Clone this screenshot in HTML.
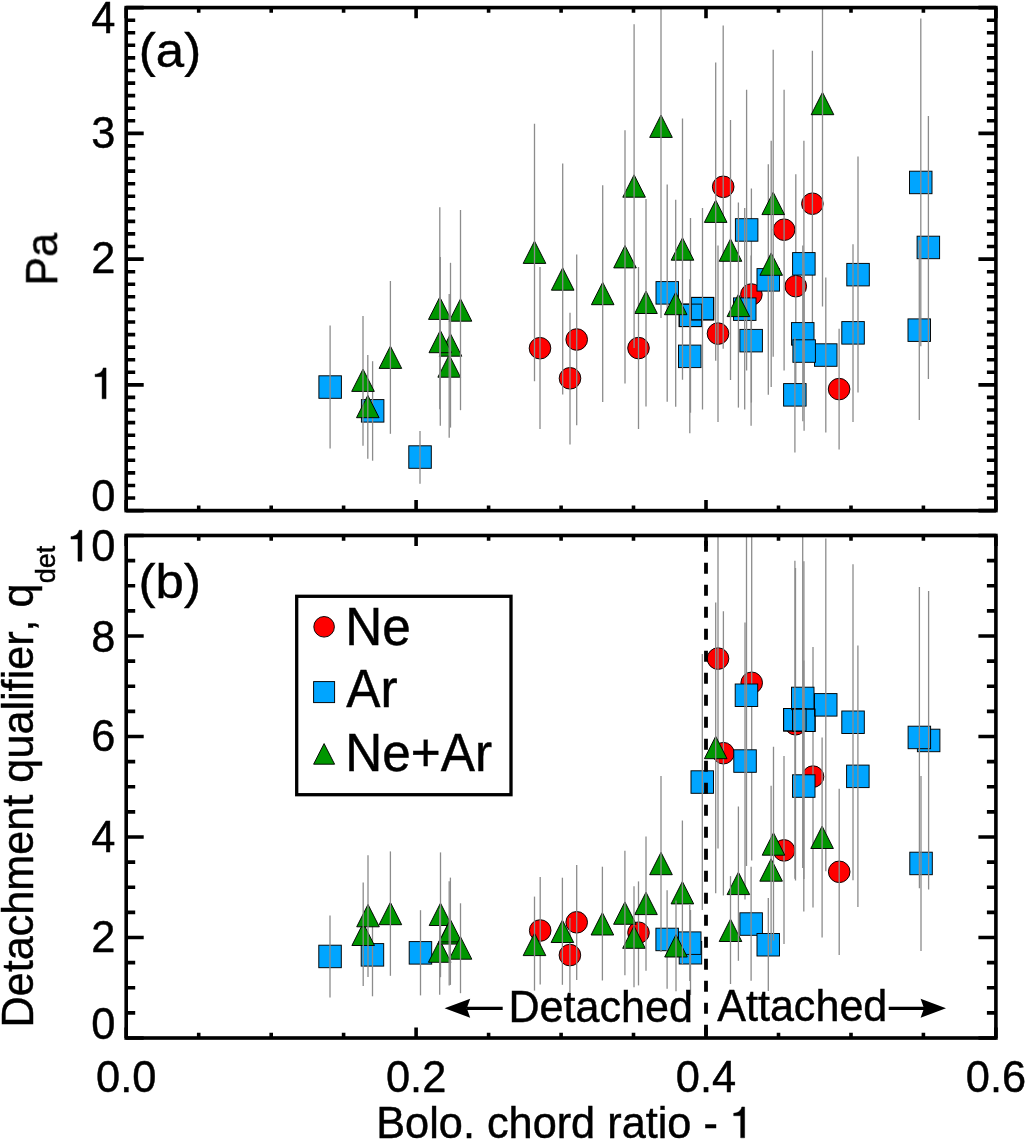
<!DOCTYPE html>
<html><head><meta charset="utf-8"><style>
html,body{margin:0;padding:0;background:#fff;overflow:hidden;}
svg{display:block;font-family:"Liberation Sans",sans-serif;font-variant-ligatures:none;font-feature-settings:"liga" 0,"clig" 0;font-kerning:none;}
</style></head><body>
<svg width="1025" height="1140" viewBox="0 0 1025 1140">
<rect width="1025" height="1140" fill="#fff"/>
<defs>
<clipPath id="ca"><rect x="126.2" y="7.6" width="869.6999999999999" height="503.0"/></clipPath>
<clipPath id="cb"><rect x="126.2" y="535.5" width="869.6999999999999" height="502.5"/></clipPath>
</defs>
<g clip-path="url(#ca)"><circle cx="540.0" cy="348.2" r="10.8" fill="#ff0000" stroke="#000" stroke-width="0.95"/>
<circle cx="570.0" cy="378.3" r="10.8" fill="#ff0000" stroke="#000" stroke-width="0.95"/>
<circle cx="576.7" cy="339.5" r="10.8" fill="#ff0000" stroke="#000" stroke-width="0.95"/>
<circle cx="638.5" cy="348.1" r="10.8" fill="#ff0000" stroke="#000" stroke-width="0.95"/>
<circle cx="723.2" cy="186.8" r="10.8" fill="#ff0000" stroke="#000" stroke-width="0.95"/>
<circle cx="751.4" cy="294.5" r="10.8" fill="#ff0000" stroke="#000" stroke-width="0.95"/>
<circle cx="718.0" cy="333.6" r="10.8" fill="#ff0000" stroke="#000" stroke-width="0.95"/>
<circle cx="784.1" cy="229.7" r="10.8" fill="#ff0000" stroke="#000" stroke-width="0.95"/>
<circle cx="812.4" cy="203.7" r="10.8" fill="#ff0000" stroke="#000" stroke-width="0.95"/>
<circle cx="795.8" cy="286.2" r="10.8" fill="#ff0000" stroke="#000" stroke-width="0.95"/>
<circle cx="839.1" cy="389.1" r="10.8" fill="#ff0000" stroke="#000" stroke-width="0.95"/>
<g stroke="#8c8c8c" stroke-width="1.3">
<line x1="540.0" y1="267.0" x2="540.0" y2="429.0"/>
<line x1="570.0" y1="312.8" x2="570.0" y2="444.6"/>
<line x1="576.7" y1="254.4" x2="576.7" y2="425.2"/>
<line x1="638.5" y1="267.0" x2="638.5" y2="429.0"/>
<line x1="723.2" y1="25.4" x2="723.2" y2="348.7"/>
<line x1="751.4" y1="188.6" x2="751.4" y2="402.6"/>
<line x1="718.0" y1="245.4" x2="718.0" y2="422.0"/>
<line x1="784.1" y1="89.8" x2="784.1" y2="370.4"/>
<line x1="812.4" y1="50.7" x2="812.4" y2="356.5"/>
<line x1="795.8" y1="174.2" x2="795.8" y2="398.0"/>
<line x1="839.1" y1="328.8" x2="839.1" y2="449.5"/>
</g>
<rect x="318.9" y="375.8" width="22.5" height="22.5" fill="#00a5ff" stroke="#000" stroke-width="0.95"/>
<rect x="361.4" y="399.6" width="22.5" height="22.5" fill="#00a5ff" stroke="#000" stroke-width="0.95"/>
<rect x="408.8" y="445.8" width="22.5" height="22.5" fill="#00a5ff" stroke="#000" stroke-width="0.95"/>
<rect x="656.0" y="281.6" width="22.5" height="22.5" fill="#00a5ff" stroke="#000" stroke-width="0.95"/>
<rect x="678.5" y="345.1" width="22.5" height="22.5" fill="#00a5ff" stroke="#000" stroke-width="0.95"/>
<rect x="679.2" y="304.1" width="22.5" height="22.5" fill="#00a5ff" stroke="#000" stroke-width="0.95"/>
<rect x="691.2" y="297.4" width="22.5" height="22.5" fill="#00a5ff" stroke="#000" stroke-width="0.95"/>
<rect x="735.4" y="218.7" width="22.5" height="22.5" fill="#00a5ff" stroke="#000" stroke-width="0.95"/>
<rect x="733.5" y="297.9" width="22.5" height="22.5" fill="#00a5ff" stroke="#000" stroke-width="0.95"/>
<rect x="739.9" y="329.4" width="22.5" height="22.5" fill="#00a5ff" stroke="#000" stroke-width="0.95"/>
<rect x="757.0" y="268.6" width="22.5" height="22.5" fill="#00a5ff" stroke="#000" stroke-width="0.95"/>
<rect x="792.6" y="252.6" width="22.5" height="22.5" fill="#00a5ff" stroke="#000" stroke-width="0.95"/>
<rect x="791.5" y="322.6" width="22.5" height="22.5" fill="#00a5ff" stroke="#000" stroke-width="0.95"/>
<rect x="814.5" y="343.8" width="22.5" height="22.5" fill="#00a5ff" stroke="#000" stroke-width="0.95"/>
<rect x="792.9" y="339.8" width="22.5" height="22.5" fill="#00a5ff" stroke="#000" stroke-width="0.95"/>
<rect x="783.6" y="383.6" width="22.5" height="22.5" fill="#00a5ff" stroke="#000" stroke-width="0.95"/>
<rect x="846.8" y="263.4" width="22.5" height="22.5" fill="#00a5ff" stroke="#000" stroke-width="0.95"/>
<rect x="841.8" y="321.6" width="22.5" height="22.5" fill="#00a5ff" stroke="#000" stroke-width="0.95"/>
<rect x="909.5" y="171.2" width="22.5" height="22.5" fill="#00a5ff" stroke="#000" stroke-width="0.95"/>
<rect x="917.1" y="236.2" width="22.5" height="22.5" fill="#00a5ff" stroke="#000" stroke-width="0.95"/>
<rect x="908.0" y="318.9" width="22.5" height="22.5" fill="#00a5ff" stroke="#000" stroke-width="0.95"/>
<rect x="679.2" y="304.1" width="22.5" height="22.5" fill="none" stroke="#000" stroke-width="0.95"/>
<rect x="691.2" y="297.4" width="22.5" height="22.5" fill="none" stroke="#000" stroke-width="0.95"/>
<g stroke="#8c8c8c" stroke-width="1.3">
<line x1="330.1" y1="325.4" x2="330.1" y2="448.6"/>
<line x1="372.6" y1="361.2" x2="372.6" y2="460.7"/>
<line x1="420.0" y1="431.0" x2="420.0" y2="483.8"/>
<line x1="667.2" y1="184.6" x2="667.2" y2="401.7"/>
<line x1="689.8" y1="279.3" x2="689.8" y2="433.3"/>
<line x1="690.5" y1="218.0" x2="690.5" y2="412.7"/>
<line x1="702.5" y1="208.0" x2="702.5" y2="409.5"/>
<line x1="746.6" y1="89.8" x2="746.6" y2="370.4"/>
<line x1="744.7" y1="208.0" x2="744.7" y2="409.6"/>
<line x1="751.1" y1="255.5" x2="751.1" y2="425.7"/>
<line x1="768.3" y1="164.3" x2="768.3" y2="394.7"/>
<line x1="803.9" y1="140.7" x2="803.9" y2="387.0"/>
<line x1="802.8" y1="245.6" x2="802.8" y2="421.2"/>
<line x1="825.8" y1="277.6" x2="825.8" y2="432.5"/>
<line x1="804.1" y1="270.8" x2="804.1" y2="430.7"/>
<line x1="794.9" y1="337.5" x2="794.9" y2="452.6"/>
<line x1="858.0" y1="156.4" x2="858.0" y2="392.4"/>
<line x1="853.0" y1="244.3" x2="853.0" y2="421.9"/>
<line x1="920.8" y1="18.4" x2="920.8" y2="346.2"/>
<line x1="928.4" y1="115.9" x2="928.4" y2="378.9"/>
<line x1="919.3" y1="240.3" x2="919.3" y2="420.1"/>
</g>
<path d="M363.0 369.1L374.3 391.4L351.7 391.4Z" fill="#009600" stroke="#000" stroke-width="0.95" stroke-linejoin="miter"/>
<path d="M367.8 395.3L379.1 417.7L356.5 417.7Z" fill="#009600" stroke="#000" stroke-width="0.95" stroke-linejoin="miter"/>
<path d="M390.4 346.1L401.7 368.4L379.1 368.4Z" fill="#009600" stroke="#000" stroke-width="0.95" stroke-linejoin="miter"/>
<path d="M460.5 298.8L471.8 321.2L449.2 321.2Z" fill="#009600" stroke="#000" stroke-width="0.95" stroke-linejoin="miter"/>
<path d="M449.2 354.8L460.5 377.2L437.9 377.2Z" fill="#009600" stroke="#000" stroke-width="0.95" stroke-linejoin="miter"/>
<path d="M450.5 333.8L461.8 356.2L439.2 356.2Z" fill="#009600" stroke="#000" stroke-width="0.95" stroke-linejoin="miter"/>
<path d="M439.8 297.1L451.1 319.4L428.5 319.4Z" fill="#009600" stroke="#000" stroke-width="0.95" stroke-linejoin="miter"/>
<path d="M440.3 330.3L451.6 352.7L429.0 352.7Z" fill="#009600" stroke="#000" stroke-width="0.95" stroke-linejoin="miter"/>
<path d="M534.5 241.1L545.8 263.4L523.2 263.4Z" fill="#009600" stroke="#000" stroke-width="0.95" stroke-linejoin="miter"/>
<path d="M562.7 267.8L574.0 290.2L551.4 290.2Z" fill="#009600" stroke="#000" stroke-width="0.95" stroke-linejoin="miter"/>
<path d="M602.7 282.3L614.0 304.7L591.4 304.7Z" fill="#009600" stroke="#000" stroke-width="0.95" stroke-linejoin="miter"/>
<path d="M625.0 245.5L636.3 267.9L613.7 267.9Z" fill="#009600" stroke="#000" stroke-width="0.95" stroke-linejoin="miter"/>
<path d="M634.1 174.8L645.4 197.2L622.8 197.2Z" fill="#009600" stroke="#000" stroke-width="0.95" stroke-linejoin="miter"/>
<path d="M646.0 291.1L657.3 313.5L634.7 313.5Z" fill="#009600" stroke="#000" stroke-width="0.95" stroke-linejoin="miter"/>
<path d="M661.0 115.0L672.3 137.4L649.7 137.4Z" fill="#009600" stroke="#000" stroke-width="0.95" stroke-linejoin="miter"/>
<path d="M675.7 292.3L687.0 314.7L664.4 314.7Z" fill="#009600" stroke="#000" stroke-width="0.95" stroke-linejoin="miter"/>
<path d="M682.5 237.8L693.8 260.2L671.2 260.2Z" fill="#009600" stroke="#000" stroke-width="0.95" stroke-linejoin="miter"/>
<path d="M715.7 200.1L727.0 222.4L704.4 222.4Z" fill="#009600" stroke="#000" stroke-width="0.95" stroke-linejoin="miter"/>
<path d="M730.5 238.9L741.8 261.3L719.2 261.3Z" fill="#009600" stroke="#000" stroke-width="0.95" stroke-linejoin="miter"/>
<path d="M738.4 294.2L749.7 316.6L727.1 316.6Z" fill="#009600" stroke="#000" stroke-width="0.95" stroke-linejoin="miter"/>
<path d="M773.2 192.2L784.5 214.6L761.9 214.6Z" fill="#009600" stroke="#000" stroke-width="0.95" stroke-linejoin="miter"/>
<path d="M771.2 252.9L782.5 275.3L759.9 275.3Z" fill="#009600" stroke="#000" stroke-width="0.95" stroke-linejoin="miter"/>
<path d="M822.5 92.3L833.8 114.7L811.2 114.7Z" fill="#009600" stroke="#000" stroke-width="0.95" stroke-linejoin="miter"/>
<g stroke="#8c8c8c" stroke-width="1.3">
<line x1="363.0" y1="316.0" x2="363.0" y2="445.7"/>
<line x1="367.8" y1="355.0" x2="367.8" y2="458.7"/>
<line x1="390.4" y1="281.0" x2="390.4" y2="433.8"/>
<line x1="460.5" y1="210.0" x2="460.5" y2="410.2"/>
<line x1="449.2" y1="294.0" x2="449.2" y2="437.8"/>
<line x1="450.5" y1="262.8" x2="450.5" y2="427.6"/>
<line x1="439.8" y1="207.2" x2="439.8" y2="409.2"/>
<line x1="440.3" y1="257.0" x2="440.3" y2="425.8"/>
<line x1="534.5" y1="123.7" x2="534.5" y2="381.2"/>
<line x1="562.7" y1="163.5" x2="562.7" y2="394.5"/>
<line x1="602.7" y1="185.2" x2="602.7" y2="402.0"/>
<line x1="625.0" y1="130.2" x2="625.0" y2="383.6"/>
<line x1="634.1" y1="24.2" x2="634.1" y2="348.0"/>
<line x1="646.0" y1="199.0" x2="646.0" y2="406.6"/>
<line x1="661.0" y1="7.6" x2="661.0" y2="318.0"/>
<line x1="675.7" y1="199.7" x2="675.7" y2="406.7"/>
<line x1="682.5" y1="118.5" x2="682.5" y2="379.7"/>
<line x1="715.7" y1="62.4" x2="715.7" y2="360.8"/>
<line x1="730.5" y1="120.1" x2="730.5" y2="380.0"/>
<line x1="738.4" y1="202.4" x2="738.4" y2="407.6"/>
<line x1="773.2" y1="49.8" x2="773.2" y2="356.8"/>
<line x1="771.2" y1="140.7" x2="771.2" y2="387.1"/>
<line x1="822.5" y1="7.6" x2="822.5" y2="306.5"/>
</g></g>
<g clip-path="url(#cb)"><circle cx="540.2" cy="930.5" r="10.8" fill="#ff0000" stroke="#000" stroke-width="0.95"/>
<circle cx="569.9" cy="955.1" r="10.8" fill="#ff0000" stroke="#000" stroke-width="0.95"/>
<circle cx="576.7" cy="922.3" r="10.8" fill="#ff0000" stroke="#000" stroke-width="0.95"/>
<circle cx="638.5" cy="932.7" r="10.8" fill="#ff0000" stroke="#000" stroke-width="0.95"/>
<circle cx="718.0" cy="658.6" r="10.8" fill="#ff0000" stroke="#000" stroke-width="0.95"/>
<circle cx="723.4" cy="753.2" r="10.8" fill="#ff0000" stroke="#000" stroke-width="0.95"/>
<circle cx="751.7" cy="682.8" r="10.8" fill="#ff0000" stroke="#000" stroke-width="0.95"/>
<circle cx="784.0" cy="850.4" r="10.8" fill="#ff0000" stroke="#000" stroke-width="0.95"/>
<circle cx="795.5" cy="724.3" r="10.8" fill="#ff0000" stroke="#000" stroke-width="0.95"/>
<circle cx="813.0" cy="776.6" r="10.8" fill="#ff0000" stroke="#000" stroke-width="0.95"/>
<circle cx="839.2" cy="871.8" r="10.8" fill="#ff0000" stroke="#000" stroke-width="0.95"/>
<g stroke="#8c8c8c" stroke-width="1.3">
<line x1="540.2" y1="877.1" x2="540.2" y2="984.4"/>
<line x1="569.9" y1="918.0" x2="569.9" y2="992.2"/>
<line x1="576.7" y1="865.0" x2="576.7" y2="980.1"/>
<line x1="638.5" y1="881.4" x2="638.5" y2="985.4"/>
<line x1="718.0" y1="535.5" x2="718.0" y2="848.6"/>
<line x1="723.4" y1="611.2" x2="723.4" y2="895.5"/>
<line x1="751.7" y1="535.5" x2="751.7" y2="860.5"/>
<line x1="784.0" y1="756.0" x2="784.0" y2="944.0"/>
<line x1="795.5" y1="568.0" x2="795.5" y2="880.6"/>
<line x1="813.0" y1="647.0" x2="813.0" y2="907.6"/>
<line x1="839.2" y1="788.8" x2="839.2" y2="955.0"/>
</g>
<rect x="318.8" y="945.2" width="22.5" height="22.5" fill="#00a5ff" stroke="#000" stroke-width="0.95"/>
<rect x="361.2" y="943.6" width="22.5" height="22.5" fill="#00a5ff" stroke="#000" stroke-width="0.95"/>
<rect x="409.2" y="941.6" width="22.5" height="22.5" fill="#00a5ff" stroke="#000" stroke-width="0.95"/>
<rect x="655.9" y="928.2" width="22.5" height="22.5" fill="#00a5ff" stroke="#000" stroke-width="0.95"/>
<rect x="679.2" y="941.5" width="22.5" height="22.5" fill="#00a5ff" stroke="#000" stroke-width="0.95"/>
<rect x="678.5" y="931.9" width="22.5" height="22.5" fill="#00a5ff" stroke="#000" stroke-width="0.95"/>
<rect x="691.0" y="770.8" width="22.5" height="22.5" fill="#00a5ff" stroke="#000" stroke-width="0.95"/>
<rect x="733.8" y="749.8" width="22.5" height="22.5" fill="#00a5ff" stroke="#000" stroke-width="0.95"/>
<rect x="735.2" y="684.0" width="22.5" height="22.5" fill="#00a5ff" stroke="#000" stroke-width="0.95"/>
<rect x="739.9" y="912.8" width="22.5" height="22.5" fill="#00a5ff" stroke="#000" stroke-width="0.95"/>
<rect x="757.0" y="933.5" width="22.5" height="22.5" fill="#00a5ff" stroke="#000" stroke-width="0.95"/>
<rect x="783.6" y="708.5" width="22.5" height="22.5" fill="#00a5ff" stroke="#000" stroke-width="0.95"/>
<rect x="791.5" y="687.2" width="22.5" height="22.5" fill="#00a5ff" stroke="#000" stroke-width="0.95"/>
<rect x="792.6" y="709.0" width="22.5" height="22.5" fill="#00a5ff" stroke="#000" stroke-width="0.95"/>
<rect x="792.5" y="774.8" width="22.5" height="22.5" fill="#00a5ff" stroke="#000" stroke-width="0.95"/>
<rect x="814.5" y="693.6" width="22.5" height="22.5" fill="#00a5ff" stroke="#000" stroke-width="0.95"/>
<rect x="841.8" y="711.0" width="22.5" height="22.5" fill="#00a5ff" stroke="#000" stroke-width="0.95"/>
<rect x="846.6" y="765.1" width="22.5" height="22.5" fill="#00a5ff" stroke="#000" stroke-width="0.95"/>
<rect x="917.4" y="729.2" width="22.5" height="22.5" fill="#00a5ff" stroke="#000" stroke-width="0.95"/>
<rect x="908.1" y="726.2" width="22.5" height="22.5" fill="#00a5ff" stroke="#000" stroke-width="0.95"/>
<rect x="909.8" y="852.2" width="22.5" height="22.5" fill="#00a5ff" stroke="#000" stroke-width="0.95"/>
<rect x="783.6" y="708.5" width="22.5" height="22.5" fill="none" stroke="#000" stroke-width="0.95"/>
<rect x="792.6" y="709.0" width="22.5" height="22.5" fill="none" stroke="#000" stroke-width="0.95"/>
<g stroke="#8c8c8c" stroke-width="1.3">
<line x1="330.0" y1="915.5" x2="330.0" y2="997.5"/>
<line x1="372.5" y1="913.5" x2="372.5" y2="996.3"/>
<line x1="420.5" y1="910.2" x2="420.5" y2="995.4"/>
<line x1="667.1" y1="890.3" x2="667.1" y2="988.7"/>
<line x1="690.5" y1="910.0" x2="690.5" y2="995.0"/>
<line x1="689.8" y1="905.0" x2="689.8" y2="981.0"/>
<line x1="702.3" y1="654.0" x2="702.3" y2="910.0"/>
<line x1="745.0" y1="622.4" x2="745.0" y2="899.6"/>
<line x1="746.5" y1="535.5" x2="746.5" y2="866.1"/>
<line x1="751.1" y1="866.8" x2="751.1" y2="980.8"/>
<line x1="768.3" y1="898.1" x2="768.3" y2="991.0"/>
<line x1="794.9" y1="560.8" x2="794.9" y2="878.8"/>
<line x1="802.7" y1="535.5" x2="802.7" y2="868.1"/>
<line x1="803.9" y1="561.3" x2="803.9" y2="879.1"/>
<line x1="803.8" y1="660.5" x2="803.8" y2="911.5"/>
<line x1="825.8" y1="538.6" x2="825.8" y2="871.3"/>
<line x1="853.0" y1="564.3" x2="853.0" y2="880.2"/>
<line x1="857.9" y1="645.5" x2="857.9" y2="907.0"/>
<line x1="928.6" y1="591.1" x2="928.6" y2="889.5"/>
<line x1="919.4" y1="586.9" x2="919.4" y2="888.2"/>
<line x1="921.0" y1="776.1" x2="921.0" y2="950.9"/>
</g>
<path d="M363.2 923.1L374.5 945.5L351.9 945.5Z" fill="#009600" stroke="#000" stroke-width="0.95" stroke-linejoin="miter"/>
<path d="M368.0 904.4L379.3 926.8L356.7 926.8Z" fill="#009600" stroke="#000" stroke-width="0.95" stroke-linejoin="miter"/>
<path d="M390.4 902.3L401.7 924.7L379.1 924.7Z" fill="#009600" stroke="#000" stroke-width="0.95" stroke-linejoin="miter"/>
<path d="M440.5 903.1L451.8 925.5L429.2 925.5Z" fill="#009600" stroke="#000" stroke-width="0.95" stroke-linejoin="miter"/>
<path d="M439.7 939.9L451.0 962.3L428.4 962.3Z" fill="#009600" stroke="#000" stroke-width="0.95" stroke-linejoin="miter"/>
<path d="M449.2 921.7L460.5 944.1L437.9 944.1Z" fill="#009600" stroke="#000" stroke-width="0.95" stroke-linejoin="miter"/>
<path d="M450.4 919.5L461.7 941.9L439.1 941.9Z" fill="#009600" stroke="#000" stroke-width="0.95" stroke-linejoin="miter"/>
<path d="M460.5 936.8L471.8 959.2L449.2 959.2Z" fill="#009600" stroke="#000" stroke-width="0.95" stroke-linejoin="miter"/>
<path d="M534.5 933.2L545.8 955.6L523.2 955.6Z" fill="#009600" stroke="#000" stroke-width="0.95" stroke-linejoin="miter"/>
<path d="M562.4 920.1L573.7 942.5L551.1 942.5Z" fill="#009600" stroke="#000" stroke-width="0.95" stroke-linejoin="miter"/>
<path d="M602.4 912.6L613.7 935.0L591.1 935.0Z" fill="#009600" stroke="#000" stroke-width="0.95" stroke-linejoin="miter"/>
<path d="M624.9 901.9L636.2 924.3L613.6 924.3Z" fill="#009600" stroke="#000" stroke-width="0.95" stroke-linejoin="miter"/>
<path d="M634.0 925.9L645.3 948.3L622.7 948.3Z" fill="#009600" stroke="#000" stroke-width="0.95" stroke-linejoin="miter"/>
<path d="M646.0 892.2L657.3 914.6L634.7 914.6Z" fill="#009600" stroke="#000" stroke-width="0.95" stroke-linejoin="miter"/>
<path d="M661.0 852.3L672.3 874.7L649.7 874.7Z" fill="#009600" stroke="#000" stroke-width="0.95" stroke-linejoin="miter"/>
<path d="M682.4 881.5L693.7 903.9L671.1 903.9Z" fill="#009600" stroke="#000" stroke-width="0.95" stroke-linejoin="miter"/>
<path d="M676.0 934.6L687.3 957.0L664.7 957.0Z" fill="#009600" stroke="#000" stroke-width="0.95" stroke-linejoin="miter"/>
<path d="M715.7 736.3L727.0 758.7L704.4 758.7Z" fill="#009600" stroke="#000" stroke-width="0.95" stroke-linejoin="miter"/>
<path d="M730.5 919.1L741.8 941.5L719.2 941.5Z" fill="#009600" stroke="#000" stroke-width="0.95" stroke-linejoin="miter"/>
<path d="M738.4 872.2L749.7 894.6L727.1 894.6Z" fill="#009600" stroke="#000" stroke-width="0.95" stroke-linejoin="miter"/>
<path d="M771.1 858.8L782.4 881.2L759.8 881.2Z" fill="#009600" stroke="#000" stroke-width="0.95" stroke-linejoin="miter"/>
<path d="M773.5 832.8L784.8 855.2L762.2 855.2Z" fill="#009600" stroke="#000" stroke-width="0.95" stroke-linejoin="miter"/>
<path d="M822.1 826.1L833.4 848.5L810.8 848.5Z" fill="#009600" stroke="#000" stroke-width="0.95" stroke-linejoin="miter"/>
<g stroke="#8c8c8c" stroke-width="1.3">
<line x1="363.2" y1="882.5" x2="363.2" y2="986.1"/>
<line x1="368.0" y1="855.3" x2="368.0" y2="977.0"/>
<line x1="390.4" y1="851.4" x2="390.4" y2="975.8"/>
<line x1="440.5" y1="852.4" x2="440.5" y2="977.2"/>
<line x1="439.7" y1="908.5" x2="439.7" y2="994.7"/>
<line x1="449.2" y1="881.2" x2="449.2" y2="985.5"/>
<line x1="450.4" y1="877.6" x2="450.4" y2="984.9"/>
<line x1="460.5" y1="903.3" x2="460.5" y2="993.2"/>
<line x1="534.5" y1="896.6" x2="534.5" y2="990.6"/>
<line x1="562.4" y1="877.7" x2="562.4" y2="984.8"/>
<line x1="602.4" y1="866.7" x2="602.4" y2="980.5"/>
<line x1="624.9" y1="850.7" x2="624.9" y2="975.2"/>
<line x1="634.0" y1="886.2" x2="634.0" y2="987.3"/>
<line x1="646.0" y1="836.5" x2="646.0" y2="970.7"/>
<line x1="661.0" y1="776.0" x2="661.0" y2="952.0"/>
<line x1="682.4" y1="820.5" x2="682.4" y2="964.9"/>
<line x1="676.0" y1="900.5" x2="676.0" y2="991.2"/>
<line x1="715.7" y1="602.5" x2="715.7" y2="893.2"/>
<line x1="730.5" y1="876.1" x2="730.5" y2="984.0"/>
<line x1="738.4" y1="806.5" x2="738.4" y2="960.8"/>
<line x1="771.1" y1="785.7" x2="771.1" y2="953.6"/>
<line x1="773.5" y1="746.8" x2="773.5" y2="940.5"/>
<line x1="822.1" y1="737.4" x2="822.1" y2="937.6"/>
</g></g>
<line x1="706.0" y1="540.7" x2="706.0" y2="1038.0" stroke="#000" stroke-width="3.8" stroke-dasharray="11 11"/>
<rect x="126.2" y="7.6" width="869.7" height="503.0" fill="none" stroke="#000" stroke-width="3.6"/>
<path d="M126.2 510.6h17.5M995.9 510.6h-17.5M126.2 498.0h9.0M995.9 498.0h-9.0M126.2 485.5h9.0M995.9 485.5h-9.0M126.2 472.9h9.0M995.9 472.9h-9.0M126.2 460.3h9.0M995.9 460.3h-9.0M126.2 447.7h9.0M995.9 447.7h-9.0M126.2 435.2h9.0M995.9 435.2h-9.0M126.2 422.6h9.0M995.9 422.6h-9.0M126.2 410.0h9.0M995.9 410.0h-9.0M126.2 397.4h9.0M995.9 397.4h-9.0M126.2 384.9h17.5M995.9 384.9h-17.5M126.2 372.3h9.0M995.9 372.3h-9.0M126.2 359.7h9.0M995.9 359.7h-9.0M126.2 347.1h9.0M995.9 347.1h-9.0M126.2 334.6h9.0M995.9 334.6h-9.0M126.2 322.0h9.0M995.9 322.0h-9.0M126.2 309.4h9.0M995.9 309.4h-9.0M126.2 296.8h9.0M995.9 296.8h-9.0M126.2 284.2h9.0M995.9 284.2h-9.0M126.2 271.7h9.0M995.9 271.7h-9.0M126.2 259.1h17.5M995.9 259.1h-17.5M126.2 246.5h9.0M995.9 246.5h-9.0M126.2 233.9h9.0M995.9 233.9h-9.0M126.2 221.4h9.0M995.9 221.4h-9.0M126.2 208.8h9.0M995.9 208.8h-9.0M126.2 196.2h9.0M995.9 196.2h-9.0M126.2 183.7h9.0M995.9 183.7h-9.0M126.2 171.1h9.0M995.9 171.1h-9.0M126.2 158.5h9.0M995.9 158.5h-9.0M126.2 145.9h9.0M995.9 145.9h-9.0M126.2 133.4h17.5M995.9 133.4h-17.5M126.2 120.8h9.0M995.9 120.8h-9.0M126.2 108.2h9.0M995.9 108.2h-9.0M126.2 95.6h9.0M995.9 95.6h-9.0M126.2 83.1h9.0M995.9 83.1h-9.0M126.2 70.5h9.0M995.9 70.5h-9.0M126.2 57.9h9.0M995.9 57.9h-9.0M126.2 45.3h9.0M995.9 45.3h-9.0M126.2 32.8h9.0M995.9 32.8h-9.0M126.2 20.2h9.0M995.9 20.2h-9.0M126.2 7.6h17.5M995.9 7.6h-17.5M126.2 510.6v-10.6M126.2 7.6v10.6M198.7 510.6v-5.2M198.7 7.6v5.2M271.2 510.6v-5.2M271.2 7.6v5.2M343.6 510.6v-5.2M343.6 7.6v5.2M416.1 510.6v-10.6M416.1 7.6v10.6M488.6 510.6v-5.2M488.6 7.6v5.2M561.1 510.6v-5.2M561.1 7.6v5.2M633.5 510.6v-5.2M633.5 7.6v5.2M706.0 510.6v-10.6M706.0 7.6v10.6M778.5 510.6v-5.2M778.5 7.6v5.2M851.0 510.6v-5.2M851.0 7.6v5.2M923.4 510.6v-5.2M923.4 7.6v5.2M995.9 510.6v-10.6M995.9 7.6v10.6" stroke="#000" stroke-width="3.6" fill="none"/>
<rect x="126.2" y="535.5" width="869.7" height="502.5" fill="none" stroke="#000" stroke-width="3.6"/>
<path d="M126.2 1038.0h17.5M995.9 1038.0h-17.5M126.2 1012.9h9.0M995.9 1012.9h-9.0M126.2 987.8h9.0M995.9 987.8h-9.0M126.2 962.6h9.0M995.9 962.6h-9.0M126.2 937.5h17.5M995.9 937.5h-17.5M126.2 912.4h9.0M995.9 912.4h-9.0M126.2 887.2h9.0M995.9 887.2h-9.0M126.2 862.1h9.0M995.9 862.1h-9.0M126.2 837.0h17.5M995.9 837.0h-17.5M126.2 811.9h9.0M995.9 811.9h-9.0M126.2 786.8h9.0M995.9 786.8h-9.0M126.2 761.6h9.0M995.9 761.6h-9.0M126.2 736.5h17.5M995.9 736.5h-17.5M126.2 711.4h9.0M995.9 711.4h-9.0M126.2 686.2h9.0M995.9 686.2h-9.0M126.2 661.1h9.0M995.9 661.1h-9.0M126.2 636.0h17.5M995.9 636.0h-17.5M126.2 610.9h9.0M995.9 610.9h-9.0M126.2 585.8h9.0M995.9 585.8h-9.0M126.2 560.6h9.0M995.9 560.6h-9.0M126.2 535.5h17.5M995.9 535.5h-17.5M126.2 1038.0v-10.6M126.2 535.5v10.6M198.7 1038.0v-5.2M198.7 535.5v5.2M271.2 1038.0v-5.2M271.2 535.5v5.2M343.6 1038.0v-5.2M343.6 535.5v5.2M416.1 1038.0v-10.6M416.1 535.5v10.6M488.6 1038.0v-5.2M488.6 535.5v5.2M561.1 1038.0v-5.2M561.1 535.5v5.2M633.5 1038.0v-5.2M633.5 535.5v5.2M706.0 1038.0v-10.6M706.0 535.5v10.6M778.5 1038.0v-5.2M778.5 535.5v5.2M851.0 1038.0v-5.2M851.0 535.5v5.2M923.4 1038.0v-5.2M923.4 535.5v5.2M995.9 1038.0v-10.6M995.9 535.5v10.6" stroke="#000" stroke-width="3.6" fill="none"/>
<rect x="296.7" y="596.3" width="214.3" height="198.4" fill="#fff" stroke="#000" stroke-width="3.3"/>
<circle cx="324.1" cy="626.8" r="10.3" fill="#ff0000" stroke="#000" stroke-width="0.95"/>
<rect x="313.6" y="681.6" width="21" height="21" fill="#00a5ff" stroke="#000" stroke-width="0.95"/>
<path d="M324.1 743.6L334.6 764.2L313.6 764.2Z" fill="#009600" stroke="#000" stroke-width="0.95"/>
<path d="M502.7 1008.3H467" stroke="#000" stroke-width="3.2"/>
<path d="M444.6 1008.3L470.2 998.8L466.8 1008.3L470.2 1017.8Z" fill="#000"/>
<path d="M888.7 1008.3H924" stroke="#000" stroke-width="3.2"/>
<path d="M946 1008.3L920.6 998.8L924 1008.3L920.6 1017.8Z" fill="#000"/>
<g font-family="Liberation Sans, sans-serif" fill="#000" stroke="#000" stroke-width="0.45" style="filter:grayscale(1)">
<text transform="translate(115.5,32.6) scale(1,1.035)" font-size="43.4" text-anchor="end" >4</text>
<text transform="translate(115.5,148.3) scale(1,1.035)" font-size="43.4" text-anchor="end" >3</text>
<text transform="translate(115.5,273.0) scale(1,1.035)" font-size="43.4" text-anchor="end" >2</text>
<text transform="translate(115.5,398.8) scale(1,1.035)" font-size="43.4" text-anchor="end" >&#8199;</text>
<text transform="translate(115.5,511.0) scale(1,1.035)" font-size="43.4" text-anchor="end" >0</text>
<text transform="translate(115.5,561.2) scale(1,1.035)" font-size="43.4" text-anchor="end" >&#8199;0</text>
<text transform="translate(115.5,651.5) scale(1,1.035)" font-size="43.4" text-anchor="end" >8</text>
<text transform="translate(115.5,751.4) scale(1,1.035)" font-size="43.4" text-anchor="end" >6</text>
<text transform="translate(115.5,851.8) scale(1,1.035)" font-size="43.4" text-anchor="end" >4</text>
<text transform="translate(115.5,952.2) scale(1,1.035)" font-size="43.4" text-anchor="end" >2</text>
<text transform="translate(115.5,1039.2) scale(1,1.035)" font-size="43.4" text-anchor="end" >0</text>
<text transform="translate(126.2,1092.5) scale(1,1.035)" font-size="43.4" text-anchor="middle" >0.0</text>
<text transform="translate(416.1,1092.5) scale(1,1.035)" font-size="43.4" text-anchor="middle" >0.2</text>
<text transform="translate(706.0,1092.5) scale(1,1.035)" font-size="43.4" text-anchor="middle" >0.4</text>
<text transform="translate(995.9,1092.5) scale(1,1.035)" font-size="43.4" text-anchor="middle" >0.6</text>
<text transform="translate(565.1,1137.8) scale(1,1.035)" font-size="43.3" text-anchor="middle" >Bolo. chord ratio - &#8199;</text>
<text transform="translate(57.6,259.4) rotate(-90) scale(1,1.035)" font-size="43.0" text-anchor="middle" >Pa</text>
<text transform="translate(33.4,1027.5) rotate(-90) scale(1,1.035)" font-size="43.2" text-anchor="start" >Detachment qualifier, q<tspan font-size="27" dy="20.5">det</tspan></text>
<text transform="translate(138.8,66.8) scale(1,0.94)" font-size="51" text-anchor="start" >(a)</text>
<text transform="translate(138.6,598.0) scale(1,0.94)" font-size="51" text-anchor="start" >(b)</text>
<text transform="translate(508.5,1021.5) scale(1,1.035)" font-size="43.1" text-anchor="start" >Detached</text>
<text transform="translate(717.2,1021.3) scale(1,1.035)" font-size="43.1" text-anchor="start" >Attached</text>
<text transform="translate(345.2,644.6) scale(1,1.035)" font-size="51.3" text-anchor="start" >Ne</text>
<text transform="translate(346.3,707.2) scale(1,1.035)" font-size="51.3" text-anchor="start" >Ar</text>
<text transform="translate(345.2,770.8) scale(1,1.035)" font-size="51.3" text-anchor="start" >Ne+Ar</text>
<path transform="translate(115.5,398.8) scale(1,1.035) translate(-24.14,0) scale(43.4,-43.4)" d="M0.339 0.688V0H0.247V0.492H0.086V0.548C0.170 0.553 0.255 0.594 0.273 0.688Z" vector-effect="non-scaling-stroke"/>
<path transform="translate(115.5,561.2) scale(1,1.035) translate(-48.27,0) scale(43.4,-43.4)" d="M0.339 0.688V0H0.247V0.492H0.086V0.548C0.170 0.553 0.255 0.594 0.273 0.688Z" vector-effect="non-scaling-stroke"/>
<path transform="translate(565.1,1137.8) scale(1,1.035) translate(164.85,0) scale(43.3,-43.3)" d="M0.339 0.688V0H0.247V0.492H0.086V0.548C0.170 0.553 0.255 0.594 0.273 0.688Z" vector-effect="non-scaling-stroke"/>
</g>
</svg>
</body></html>
